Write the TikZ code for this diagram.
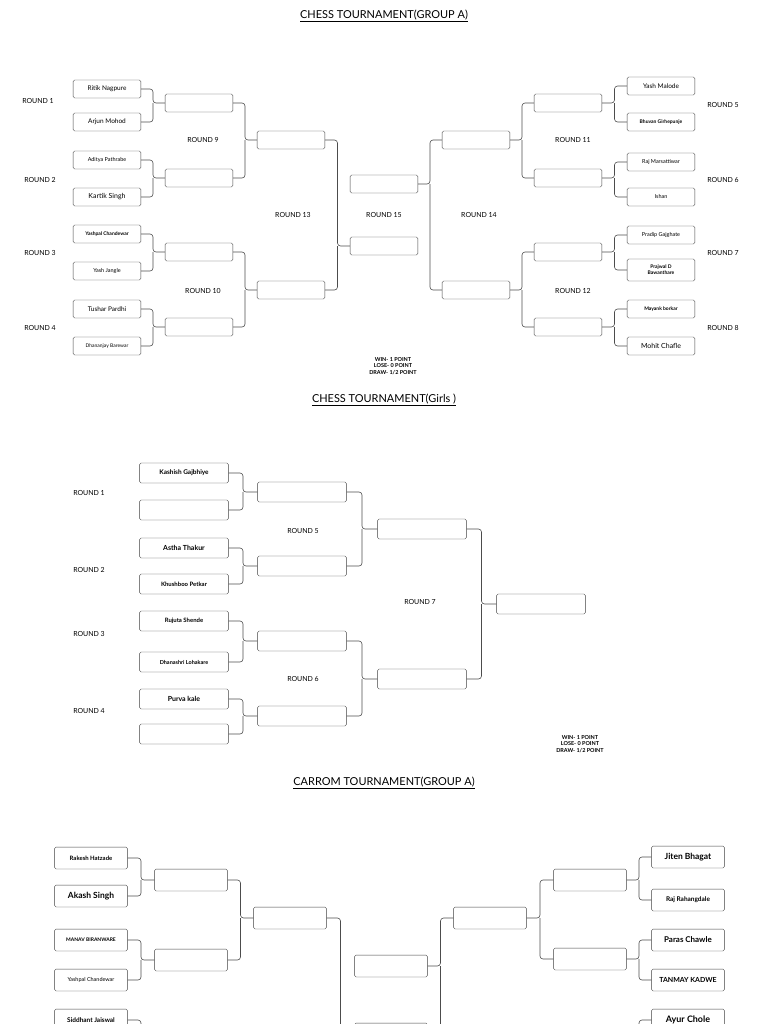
\documentclass[tikz,border=0pt]{standalone}
\usepackage{fontspec}
\setmainfont{Lato}
\usetikzlibrary{calc}
\tikzset{
 bx/.style={draw=black!75,rounded corners=1.5,minimum height=18,inner sep=0,font=\fontsize{6.5}{7}\selectfont},
 cb/.style={bx,minimum width=68},
 gb/.style={bx,minimum width=89,minimum height=20},
 kb/.style={bx,minimum width=73,minimum height=22},
 lbl/.style={font=\fontsize{7}{8}\selectfont},
 ttl/.style={font=\fontsize{11}{12}\selectfont},
 win/.style={font=\bfseries\fontsize{5.5}{6.5}\selectfont,align=center},
 ln/.style={draw=black!70,line width=0.6,rounded corners=3}
}
\newcommand\brL[3]{\path (#1.east) -- (#3.west) coordinate[pos=.5] (m);
 \draw[ln] (#1.east) -| (m |- #3.west) -- (#3.west); \draw[ln] (#2.east) -| (m |- #3.west);}
\newcommand\brR[3]{\path (#1.west) -- (#3.east) coordinate[pos=.5] (m);
 \draw[ln] (#1.west) -| (m |- #3.east) -- (#3.east); \draw[ln] (#2.west) -| (m |- #3.east);}
\begin{document}
\begin{tikzpicture}[x=1bp,y=-1bp]
\useasboundingbox (0,0) rectangle (768,1024);
\clip (0,0) rectangle (768,1024);
% ===== Chess group A
\node[ttl] (t1) at (384,16) {\underline{CHESS TOURNAMENT(GROUP A)}};
\node[cb] (a1) at (107,89) {Ritik Nagpure};
\node[cb] (a2) at (107,122) {Arjun Mohod};
\node[cb,font=\fontsize{5.5}{6}\selectfont] (a3) at (107,160) {Aditya Pathrabe};
\node[cb,font=\fontsize{7}{8}\selectfont] (a4) at (107,197) {Kartik Singh};
\node[cb,font=\bfseries\fontsize{5}{6}\selectfont] (a5) at (107,234) {Yashpal Chandewar};
\node[cb,font=\fontsize{5.5}{6}\selectfont] (a6) at (107,271) {Yash Jangle};
\node[cb] (a7) at (107,309) {Tushar Pardhi};
\node[cb,font=\fontsize{5}{6}\selectfont] (a8) at (107,346) {Dhananjay Barewar};
\foreach \i/\y in {1/103,2/178,3/252,4/327} \node[cb] (b\i) at (199,\y) {};
\node[cb] (c1) at (291,140) {}; \node[cb] (c2) at (291,290) {};
\node[cb] (d1) at (384,184) {}; \node[cb] (d2) at (384,246) {};
\node[cb] (e1) at (661,86) {Yash Malode};
\node[cb,font=\bfseries\fontsize{5}{6}\selectfont] (e2) at (661,122) {Bhuvan Girhepunje};
\node[cb,font=\fontsize{5.5}{6}\selectfont] (e3) at (661,162) {Raj Marsattiwar};
\node[cb,font=\fontsize{5.5}{6}\selectfont] (e4) at (661,197) {Ishan};
\node[cb,font=\fontsize{5.5}{6}\selectfont] (e5) at (661,235) {Pradip Gajghate};
\node[cb,minimum height=22,align=center,font=\bfseries\fontsize{5}{6}\selectfont] (e6) at (661,270) {Prajwal D\\Bawanthare};
\node[cb,font=\bfseries\fontsize{5}{6}\selectfont] (e7) at (661,309) {Mayank borkar};
\node[cb,font=\fontsize{7}{8}\selectfont] (e8) at (661,346) {Mohit Chafle};
\foreach \i/\y in {1/103,2/178,3/252,4/327} \node[cb] (f\i) at (568,\y) {};
\node[cb] (g1) at (476,140) {}; \node[cb] (g2) at (476,290) {};
\brL{a1}{a2}{b1}\brL{a3}{a4}{b2}\brL{a5}{a6}{b3}\brL{a7}{a8}{b4}
\brL{b1}{b2}{c1}\brL{b3}{b4}{c2}\brL{c1}{c2}{d2}
\brR{e1}{e2}{f1}\brR{e3}{e4}{f2}\brR{e5}{e6}{f3}\brR{e7}{e8}{f4}
\brR{f1}{f2}{g1}\brR{f3}{f4}{g2}\brR{g1}{g2}{d1}
\foreach \t/\x/\y in {1/38/101,2/40/180,3/40/253,4/40/328,9/203/140,10/203/291,13/293/215,15/384/215,14/479/215,11/573/140,12/573/291,5/723/105,6/723/180,7/723/253,8/723/328}
 \node[lbl] (r\t) at (\x,\y) {ROUND \t};
\node[win] (w1) at (393,366) {WIN- 1 POINT\\LOSE- 0 POINT\\DRAW- 1/2 POINT};
% ===== Chess girls
\node[ttl] (t2) at (384,400) {\underline{CHESS TOURNAMENT(Girls )}};
\node[gb,font=\bfseries\fontsize{6.5}{7}\selectfont] (p1) at (184,473) {Kashish Gajbhiye};
\node[gb] (p2) at (184,510) {};
\node[gb,font=\bfseries\fontsize{7}{8}\selectfont] (p3) at (184,548) {Astha Thakur};
\node[gb,font=\bfseries\fontsize{6}{7}\selectfont] (p4) at (184,584) {Khushboo Petkar};
\node[gb,font=\bfseries\fontsize{6}{7}\selectfont] (p5) at (184,621) {Rujuta Shende};
\node[gb,font=\bfseries\fontsize{5.5}{6}\selectfont] (p6) at (184,662) {Dhanashri Lohakare};
\node[gb,font=\bfseries\fontsize{7}{8}\selectfont] (p7) at (184,699) {Purva kale};
\node[gb] (p8) at (184,734) {};
\foreach \i/\y in {1/492,2/566,3/641,4/716} \node[gb] (q\i) at (302,\y) {};
\node[gb] (s1) at (422,529) {}; \node[gb] (s2) at (422,679) {};
\node[gb] (s3) at (541,604) {};
\brL{p1}{p2}{q1}\brL{p3}{p4}{q2}\brL{p5}{p6}{q3}\brL{p7}{p8}{q4}
\brL{q1}{q2}{s1}\brL{q3}{q4}{s2}\brL{s1}{s2}{s3}
\foreach \t/\x/\y in {1/89/493,2/89/570,3/89/634,4/89/711,5/303/531,6/303/679,7/420/602}
 \node[lbl] (g\t) at (\x,\y) {ROUND \t};
\node[win] (w2) at (580,744) {WIN- 1 POINT\\LOSE- 0 POINT\\DRAW- 1/2 POINT};
% ===== Carrom
\node[ttl] (t3) at (384,783) {\underline{CARROM TOURNAMENT(GROUP A)}};
\node[kb,font=\bfseries\fontsize{6}{7}\selectfont] (k1) at (91,858) {Rakesh Hatzade};
\node[kb,font=\bfseries\fontsize{8.5}{9}\selectfont] (k2) at (91,896) {Akash Singh};
\node[kb,font=\bfseries\fontsize{5}{6}\selectfont] (k3) at (91,940) {MANAV BIRANWARE};
\node[kb,font=\fontsize{5.5}{6}\selectfont] (k4) at (91,980) {Yashpal Chandewar};
\node[kb,font=\bfseries\fontsize{6.5}{7}\selectfont] (k5) at (91,1020) {Siddhant Jaiswal};
\node[kb] (k6) at (91,1060) {};
\node[kb] (l1) at (191,880) {}; \node[kb] (l2) at (191,960) {}; \node[kb] (l3) at (191,1040) {};
\node[kb] (m1) at (290,918) {}; \node[kb] (m2) at (290,1120) {};
\node[kb] (n1) at (391,966) {}; \node[kb] (n2) at (391,1034) {};
\node[kb,font=\bfseries\fontsize{8.5}{9}\selectfont] (h1) at (688,857) {Jiten Bhagat};
\node[kb,font=\bfseries\fontsize{6.5}{7}\selectfont] (h2) at (688,900) {Raj Rahangdale};
\node[kb,font=\bfseries\fontsize{8}{9}\selectfont] (h3) at (688,940) {Paras Chawle};
\node[kb,font=\bfseries\fontsize{7}{8}\selectfont] (h4) at (688,980) {TANMAY KADWE};
\node[kb,font=\bfseries\fontsize{9}{10}\selectfont] (h5) at (688,1020) {Ayur Chole};
\node[kb] (h6) at (688,1060) {};
\node[kb] (u1) at (590,880) {}; \node[kb] (u2) at (590,959) {}; \node[kb] (u3) at (590,1040) {};
\node[kb] (v1) at (490,918) {}; \node[kb] (v2) at (490,1120) {};
\brL{k1}{k2}{l1}\brL{k3}{k4}{l2}\brL{k5}{k6}{l3}
\brL{l1}{l2}{m1}\brL{m1}{m2}{n2}
\brR{h1}{h2}{u1}\brR{h3}{h4}{u2}\brR{h5}{h6}{u3}
\brR{u1}{u2}{v1}\brR{v1}{v2}{n1}
\end{tikzpicture}
\end{document}
